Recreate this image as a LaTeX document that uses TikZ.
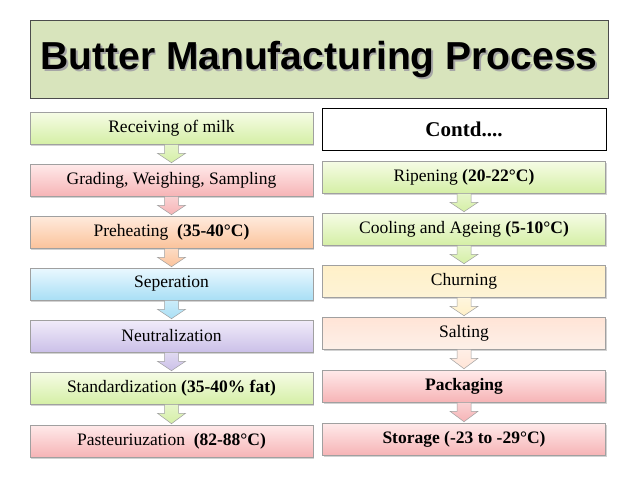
\documentclass[tikz,border=0pt]{standalone}
\usepackage{fontspec}
\setmainfont{Liberation Serif}
\newfontfamily\titlefont{Liberation Sans}
\usetikzlibrary{calc,shadows}
\definecolor{gT}{HTML}{F6FCE6}\definecolor{gB}{HTML}{D5EFA6}
\definecolor{pT}{HTML}{FFEAEA}\definecolor{pB}{HTML}{F6B4B6}
\definecolor{oT}{HTML}{FFEBDD}\definecolor{oB}{HTML}{FBC39C}
\definecolor{bT}{HTML}{EAF8FF}\definecolor{bB}{HTML}{A9DFF5}
\definecolor{vT}{HTML}{F1ECFA}\definecolor{vB}{HTML}{CBC0E8}
\definecolor{yT}{HTML}{FFF0C8}\definecolor{yB}{HTML}{FDF3D6}
\definecolor{sT}{HTML}{FFE4D6}\definecolor{sB}{HTML}{FDF0E8}
\definecolor{edge}{HTML}{A0A0A0}
\definecolor{titlebg}{HTML}{D8E4BC}
\tikzset{
 stepbox/.style n args={2}{draw=edge,line width=0.6pt,minimum width=283pt,minimum height=32pt,inner sep=0pt,top color=#1,bottom color=#2,font=\fontsize{17.5}{19}\selectfont,drop shadow={shadow xshift=1pt,shadow yshift=-1.5pt,opacity=0.35}},
 blockarrow/.style={draw=edge,line width=0.5pt,top color=#1!60!white,bottom color=#1},
}
\newcommand{\barrow}[3]{%
 \path[blockarrow=#3] ($(#1.south)+(-7,0)$) -- ($(#1.south)+(-7,9)$) -- ($(#1.south)+(-14,9)$) -- ($(#2.north)+(0,-1)$) -- ($(#1.south)+(14,9)$) -- ($(#1.south)+(7,9)$) -- ($(#1.south)+(7,0)$) -- cycle;}
\begin{document}
\begin{tikzpicture}[x=1pt,y=-1pt]
\useasboundingbox (0,0) rectangle (638,479);
\fill[white] (0,0) rectangle (638,479);
\node[draw=black!70,line width=0.8pt,fill=titlebg,minimum width=578pt,minimum height=78pt,inner sep=0pt] (title) at (319,59) {};
\node[font=\titlefont\bfseries\fontsize{39}{42}\selectfont,text=black!35] at (320.5,61.5) {Butter Manufacturing Process};
\node[font=\titlefont\bfseries\fontsize{39}{42}\selectfont] (tt) at (319,60) {Butter Manufacturing Process};
% left
\node[stepbox={gT}{gB}] (l1) at (171.5,128) {Receiving of milk};
\node[stepbox={pT}{pB}] (l2) at (171.5,180) {Grading, Weighing, Sampling};
\node[stepbox={oT}{oB}] (l3) at (171.5,232) {Preheating\ \ \textbf{(35-40°C)}};
\node[stepbox={bT}{bB}] (l4) at (171.5,284) {Seperation};
\node[stepbox={vT}{vB}] (l5) at (171.5,336) {Neutralization};
\node[stepbox={gT}{gB}] (l6) at (171.5,388) {Standardization \textbf{(35-40\% fat)}};
\node[stepbox={pT}{pB}] (l7) at (171.5,441) {Pasteuriuzation\ \ \textbf{(82-88°C)}};
% right
\node[draw=black,line width=0.8pt,fill=white,minimum width=284pt,minimum height=42pt,inner sep=0pt,font=\fontsize{21}{23}\selectfont\bfseries] (r0) at (464,129) {\raisebox{-8pt}{Contd....}};
\node[stepbox={gT}{gB}] (r1) at (464,177) {Ripening \textbf{(20-22°C)}};
\node[stepbox={gT}{gB}] (r2) at (464,229) {Cooling and Ageing \textbf{(5-10°C)}};
\node[stepbox={yT}{yB}] (r3) at (464,281) {Churning};
\node[stepbox={sT}{sB}] (r4) at (464,333) {Salting};
\node[stepbox={pT}{pB}] (r5) at (464,386) {\textbf{Packaging}};
\node[stepbox={pT}{pB}] (r6) at (464,439) {\textbf{Storage (-23 to -29°C)}};
% arrows
\barrow{l1}{l2}{gB}
\barrow{l2}{l3}{pB}
\barrow{l3}{l4}{oB}
\barrow{l4}{l5}{bB}
\barrow{l5}{l6}{vB}
\barrow{l6}{l7}{gB}
\barrow{r1}{r2}{gB}
\barrow{r2}{r3}{gB}
\barrow{r3}{r4}{yT}
\barrow{r4}{r5}{sT}
\barrow{r5}{r6}{pB}
\end{tikzpicture}
\end{document}
